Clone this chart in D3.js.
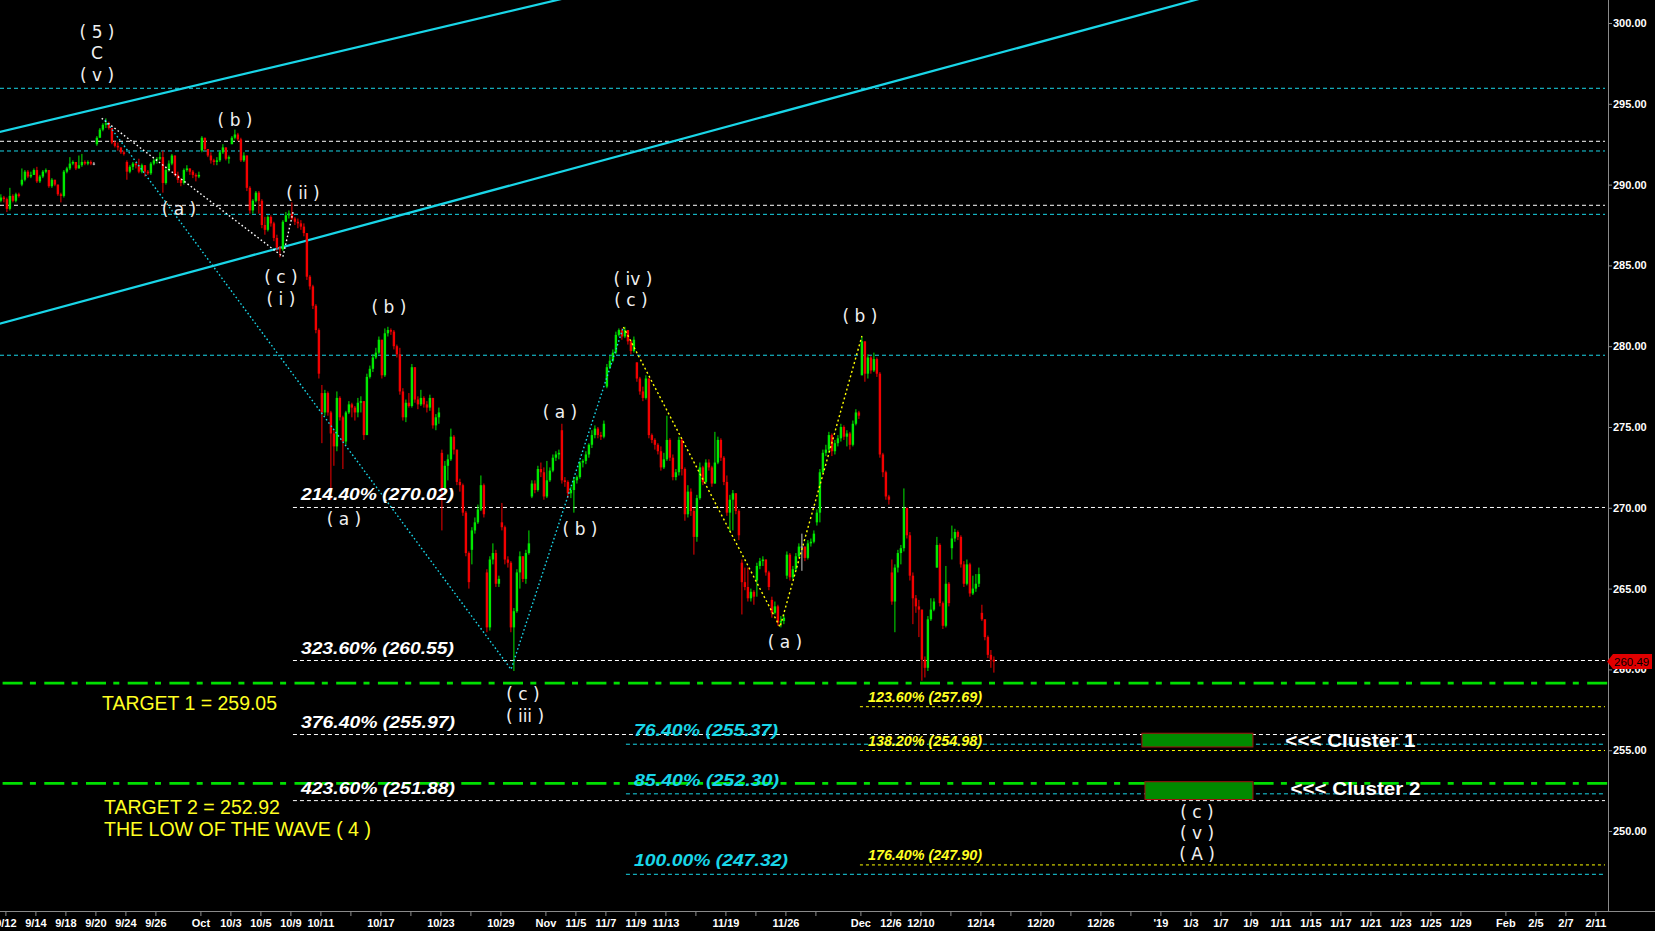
<!DOCTYPE html>
<html><head><meta charset="utf-8">
<script src="https://cdn.jsdelivr.net/npm/d3@7"></script>
<style>html,body{margin:0;padding:0;background:#000;overflow:hidden}</style>
</head><body>
<svg id="c" width="1655" height="931"></svg>
<script>
// ---------------- DATA ----------------
// trading days shown (index -1 = 9/11, 0 = 9/12 ...)
const firstDay = -1;
const dayDates = ["9/11","9/12","9/13","9/14","9/17","9/18","9/19","9/20","9/21","9/24","9/25","9/26","9/27","9/28",
 "10/1","10/2","10/3","10/4","10/5","10/8","10/9","10/10","10/11","10/12","10/15","10/16","10/17","10/18","10/19",
 "10/22","10/23","10/24","10/25","10/26","10/29","10/30","10/31","11/1","11/2","11/5","11/6","11/7","11/8","11/9",
 "11/12","11/13","11/14","11/15","11/16","11/19","11/20","11/21","11/23","11/26","11/27","11/28","11/29","11/30",
 "12/3","12/4","12/6","12/7","12/10","12/11","12/12","12/13","12/14"];
// opening price of each day when it gaps (null = previous close)
const dayOpen = [288.9,null,290.0,null,null,null,null,292.5,null,291.4,null,null,null,null,
 292.1,null,292.5,null,null,null,null,null,277.1,null,null,null,null,null,null,
 null,273.4,null,267.4,266.0,269.1,null,270.7,null,274.8,null,null,277.5,null,279.0,
 null,null,null,null,null,null,266.6,265.5,264.3,265.8,null,269.1,null,null,
 278.2,null,266.0,null,null,266.3,267.5,null,263.5];
// five intraday bars per day
const closes = [
 289.1,288.8,289.0,289.2,289.1, 288.5,289.3,289.0,289.4,289.3, 290.3,290.8,290.5,290.6,290.9,
 290.2,290.5,290.8,290.9,289.9, 290.3,290.0,289.4,289.3,290.8, 291.0,291.3,291.4,291.0,291.2,
 291.4,291.3,291.4,291.3,291.3, 292.9,293.4,293.7,293.8,293.5, 292.6,292.4,292.3,292.0,291.9,
 290.8,291.1,291.3,291.2,290.8, 291.2,290.8,290.7,291.3,291.5, 291.6,291.7,290.1,290.9,291.3,
 291.8,290.6,290.3,290.1,290.9, 291.0,290.8,290.6,290.5,290.6,
 292.9,292.2,291.8,291.5,291.4, 291.5,292.0,292.3,291.6,291.7, 292.9,293.1,292.8,291.5,291.8,
 289.8,288.4,289.0,289.5,289.0, 287.5,287.2,288.0,287.6,286.7, 286.1,286.0,287.7,288.1,288.2,
 287.9,287.7,287.6,287.4,287.0, 284.3,283.7,282.5,281.0,278.3, 275.9,277.1,275.9,274.6,273.8,
 276.8,275.6,274.1,275.9,276.4, 276.2,275.9,276.5,276.6,274.5, 278.1,278.6,279.3,279.6,280.4,
 278.2,280.8,281.0,280.9,280.0, 279.5,277.2,275.6,276.5,276.3, 278.7,276.7,276.4,276.8,276.4,
 276.2,276.8,275.1,275.6,275.9, 271.2,272.6,273.0,274.4,273.6, 271.6,271.4,269.7,267.2,265.4,
 268.6,269.1,269.9,271.4,269.6, 262.6,266.8,267.2,265.3,265.6, 268.8,266.8,266.6,262.6,263.6,
 266.0,267.0,265.6,267.2,267.8, 271.5,271.1,272.4,272.2,270.7, 271.7,272.3,273.1,273.3,273.4,
 271.7,271.6,270.9,271.1,271.7, 271.9,272.8,272.9,273.3,273.9, 274.5,274.9,274.5,274.4,275.2,
 278.7,279.1,279.6,280.7,281.0, 280.6,281.0,280.3,279.7,280.4, 278.0,277.2,276.8,278.0,274.5,
 274.2,273.9,273.5,272.5,273.0, 274.2,273.1,271.9,272.2,274.2, 272.4,269.6,271.0,269.8,268.2,
 270.6,272.5,271.6,272.8,272.5, 271.5,272.8,274.2,273.1,271.6, 269.7,270.5,270.9,269.8,268.3,
 265.4,265.1,264.4,264.8,264.5, 266.4,266.7,266.8,266.0,265.1, 263.5,263.9,262.9,263.0,263.2,
 267.1,265.7,266.2,267.0,267.6, 267.6,266.9,267.8,267.9,268.4, 269.7,272.2,273.4,273.6,274.5,
 273.5,274.0,274.3,275.0,274.4, 274.6,273.9,275.2,275.9,275.7,
 280.3,278.3,279.3,278.5,279.2, 278.3,273.3,272.2,270.7,270.5, 264.2,266.3,267.2,267.5,270.0,
 268.3,265.8,264.4,263.9,263.7, 260.6,260.1,263.1,263.7,264.2, 267.7,264.1,262.7,265.3,264.1,
 268.1,268.5,268.2,266.5,265.3, 266.5,264.7,265.0,265.3,265.9, 263.1,262.0,260.9,260.6,260.49];
const highs = [
 289.3,289.2,289.2,289.4,289.3, 289.2,289.8,289.4,289.5,289.5, 291.0,290.9,290.9,290.8,291.0,
 291.1,290.6,290.9,291.0,290.9, 290.4,290.3,290.0,289.5,290.9, 291.1,291.7,291.5,291.4,291.8,
 291.9,291.5,291.5,291.5,291.4, 293.0,293.5,293.8,294.1,293.9, 293.5,292.7,292.6,292.3,292.1,
 291.5,291.2,291.4,291.4,291.6, 291.3,291.2,290.9,291.4,291.6, 291.7,292.0,292.1,291.0,291.5,
 291.9,291.8,290.8,290.4,291.0, 291.2,291.0,290.9,290.7,290.8,
 293.0,292.9,292.2,292.0,291.6, 291.7,292.1,292.5,292.3,291.8, 293.0,293.4,293.2,292.9,292.0,
 291.3,289.9,289.1,289.6,289.6, 289.1,288.0,288.1,288.1,287.7, 286.9,286.2,287.8,288.3,288.4,
 288.9,288.0,287.9,287.8,287.6, 287.0,284.4,283.8,282.6,281.1, 277.6,277.3,277.2,276.0,274.8,
 277.2,276.9,275.7,276.0,276.6, 276.5,276.3,276.8,276.9,276.6, 278.3,278.8,279.5,279.9,280.6,
 280.2,281.1,281.2,281.1,281.0, 280.1,279.9,277.4,276.7,277.1, 278.9,278.7,276.9,277.3,276.9,
 276.6,277.0,276.8,275.8,276.2, 273.6,272.9,273.3,274.9,274.5, 273.6,271.8,271.5,269.8,267.3,
 268.8,269.4,270.2,272.0,271.5, 266.2,267.0,267.8,267.4,265.8, 270.3,268.9,267.0,266.7,263.8,
 266.2,267.3,267.0,267.4,268.6, 271.7,271.7,272.6,272.8,272.5, 272.9,272.5,273.3,273.5,273.6,
 275.2,271.9,271.7,271.3,271.9, 272.0,272.9,273.0,273.5,274.0, 274.8,275.1,275.0,274.7,275.4,
 278.9,279.4,279.8,280.9,281.1, 281.1,281.2,281.0,280.4,280.6, 279.0,278.1,277.5,278.2,277.9,
 274.6,274.3,274.0,273.8,273.4, 275.7,274.3,273.3,272.4,274.4, 274.3,272.5,271.4,271.2,270.0,
 270.8,272.8,272.6,273.0,273.0, 272.6,274.7,274.4,274.3,273.2, 272.0,270.8,271.1,270.9,269.9,
 266.8,266.3,266.3,265.0,264.9, 266.6,266.9,267.0,266.8,266.1, 264.5,264.2,264.0,263.3,263.4,
 267.3,267.2,266.4,267.2,267.8, 268.4,267.5,268.0,268.1,268.6, 269.9,272.4,273.6,273.9,274.7,
 274.6,274.2,274.5,275.2,275.1, 274.8,274.7,275.4,276.1,276.0,
 280.6,280.3,279.5,279.4,279.6, 279.3,278.4,273.4,272.3,270.8, 266.8,266.5,267.4,267.7,271.2,
 270.0,268.5,266.0,264.6,264.3, 263.5,260.8,263.3,264.4,264.4, 268.2,267.8,264.2,266.4,265.4,
 268.9,268.7,268.6,268.3,266.7, 266.8,266.6,265.8,265.9,266.3, 264.0,263.1,262.1,261.2,260.8];
const lows = [
 288.7,288.6,288.7,288.9,288.9, 288.3,288.4,288.9,288.9,289.2, 289.9,290.2,290.4,290.4,290.6,
 290.1,290.1,290.4,290.7,289.8, 289.8,289.9,289.3,288.9,289.2, 290.7,290.9,291.2,290.9,291.0,
 291.1,291.2,291.2,291.2,291.2, 292.4,292.9,293.3,293.5,293.4, 292.5,292.3,292.1,291.9,291.8,
 290.3,290.7,290.9,291.0,290.7, 290.7,290.5,290.6,290.6,291.2, 291.3,291.5,289.5,290.0,290.8,
 291.2,290.5,290.1,289.9,290.0, 290.8,290.6,290.4,290.2,290.4,
 292.0,292.1,291.7,291.3,291.2, 291.2,291.4,291.9,291.5,291.3, 292.5,292.8,292.7,291.4,291.4,
 289.6,288.2,288.2,288.9,288.2, 287.3,286.9,287.1,287.4,286.5, 285.9,285.5,285.9,287.7,287.9,
 287.8,287.5,287.3,287.2,286.8, 284.1,283.5,282.3,280.8,278.0, 274.0,275.7,275.7,270.5,272.6,
 273.5,275.4,272.4,273.9,275.8, 275.6,275.4,275.6,275.9,274.2, 274.5,278.0,278.4,279.2,279.5,
 278.0,278.1,280.6,280.7,279.8, 279.3,277.0,275.4,275.3,276.2, 276.2,276.5,276.1,276.3,276.2,
 275.9,276.0,274.9,274.8,275.2, 268.6,270.8,271.7,272.9,273.3, 271.4,271.0,269.5,267.0,265.0,
 266.5,268.4,269.0,269.8,269.4, 262.3,262.4,266.5,265.1,265.1, 268.6,266.5,266.3,262.3,259.9,
 263.5,265.0,265.4,265.3,267.1, 270.6,270.9,271.0,271.9,270.5, 270.6,271.6,272.2,272.9,273.0,
 271.5,271.3,270.6,270.6,269.7, 271.5,271.8,272.5,272.7,273.1, 273.7,274.3,274.3,274.2,274.3,
 277.4,278.6,279.0,279.5,280.6, 280.4,280.5,280.1,279.5,279.6, 277.8,277.0,276.6,276.7,274.3,
 274.0,273.6,273.3,272.3,272.4, 272.9,272.9,271.7,271.7,272.0, 272.0,269.2,269.4,269.5,267.1,
 267.9,270.5,271.4,271.5,272.3, 271.3,271.5,272.7,272.9,271.4, 269.5,268.5,268.6,269.6,268.0,
 263.4,264.9,264.2,264.2,264.0, 264.5,266.2,266.4,265.8,264.9, 263.2,263.4,262.7,262.6,262.8,
 265.6,265.5,265.6,266.1,266.9, 266.1,266.7,266.8,267.6,267.8, 268.9,269.1,272.1,273.2,273.4,
 273.2,273.3,273.8,274.1,274.2, 273.8,273.6,273.8,275.1,275.5,
 278.2,277.8,278.0,278.3,278.4, 278.1,273.1,271.9,270.5,270.2, 264.0,262.3,266.0,266.5,267.3,
 268.1,265.5,262.8,263.5,262.0, 259.3,259.5,259.9,263.0,263.6, 266.3,263.9,262.5,262.6,263.9,
 266.8,267.9,268.0,266.3,265.1, 265.2,264.5,264.6,264.8,265.1, 263.0,261.8,260.7,260.1,259.8];

// x axis ticks (trading-day index, label)
const tickIdx = [0,2,4,6,8,10,13,15,17,19,21,23,25,27,29,31,33,36,38,40,42,44,46,48,50,52,54,
 57,59,61,63,65,67,69,71,73,75,77,79,81,83,85,87,89,91,93,95,97,100,102,104,106];
const tickLabels = ["9/12","9/14","9/18","9/20","9/24","9/26","Oct","10/3","10/5","10/9","10/11","","10/17","","10/23","","10/29",
 "Nov","11/5","11/7","11/9","11/13","","11/19","","11/26","","Dec","12/6","12/10","","12/14","","12/20","","12/26","",
 "'19","1/3","1/7","1/9","1/11","1/15","1/17","1/21","1/23","1/25","1/29","Feb","2/5","2/7","2/11"];
const yTicks = [250,255,260,265,270,275,280,285,290,295,300];

// horizontal reference levels across the whole chart
const fullLevels = [295.96, 292.68, 292.08, 288.72, 288.16, 279.44];
const fullLevelColor = ["c","w","c","w","c","c"];
// fibonacci projections
const whiteFibPrice = [270.02, 260.55, 255.97, 251.88];
const whiteFibLabel = ["214.40% (270.02)","323.60% (260.55)","376.40% (255.97)","423.60% (251.88)"];
const cyanFibPrice = [255.37, 252.30, 247.32];
const cyanFibLabel = ["76.40% (255.37)","85.40% (252.30)","100.00% (247.32)"];
const yellowFibPrice = [257.69, 254.98, 247.90];
const yellowFibLabel = ["123.60% (257.69)","138.20% (254.98)","176.40% (247.90)"];
const fibStart = {w: 19.17, c: 41.37, y: 56.97};
const targetLevels = [259.15, 252.95];
// channel lines [dayIndex, price]
const channelUpper = [[-0.36, 293.27], [36.77, 301.42]];
const channelLower = [[-0.36, 281.40], [79.30, 301.42]];
// wave paths [dayIndex, price]
const waveWhite = [[6.42, 294.1], [18.5, 285.54], [19.2, 288.4]];
const waveCyan = [[6.64, 294.0], [33.71, 260.0], [41.2, 281.19]];
const waveYellow = [[41.2, 281.19], [51.64, 262.62], [57.1, 280.63]];
// cluster zones
const clusters = [{t0: 75.77, t1: 83.17, hi: 256.05, lo: 255.2, label: "<<< Cluster 1", lt: 85.33, lp: 255.6},
                  {t0: 75.97, t1: 83.17, hi: 253.05, lo: 251.95, label: "<<< Cluster 2", lt: 85.67, lp: 252.65}];
// wave labels [text, dayIndex, price]
const waveLabels = [["( 5 )",6.11,299.44],["C",6.11,298.14],["( v )",6.11,296.78],
 ["( b )",15.31,294.0],["( a )",11.57,288.49],["( ii )",19.84,289.48],["( c )",18.37,284.28],["( i )",18.37,282.92],
 ["( b )",25.57,282.43],["( a )",22.57,269.31],["( a )",36.97,275.93],["( b )",38.31,268.69],
 ["( iv )",41.84,284.16],["( c )",41.71,282.86],["( b )",56.97,281.87],["( a )",51.97,261.70],
 ["( c )",34.51,258.48],["( iii )",34.64,257.12],["( c )",79.44,251.18],["( v )",79.44,249.88],["( A )",79.44,248.58]];
const targetNotes = [["TARGET 1 = 259.05",6.44,257.92,175],["TARGET 2 = 252.92",6.57,251.49,176],["THE LOW OF THE WAVE ( 4 )",6.57,250.12,267]];
const lastPrice = 260.49;

// ---------------- DRAW ----------------
const W = 1655, H = 931, plotRight = 1608, plotBottom = 911;
const x = d3.scaleLinear().domain([0, 100]).range([5.4, 1505.4]);
const y = d3.scaleLinear().domain([250, 300]).range([831, 23]);
const COL = {c: "#19d6e8", w: "#ffffff", y: "#ffff00", g: "#00e000"};
const svg = d3.select("#c");
svg.append("rect").attr("width", W).attr("height", H).attr("fill", "#000");
svg.append("defs").append("clipPath").attr("id", "plot")
  .append("rect").attr("x", 0).attr("y", 0).attr("width", plotRight).attr("height", plotBottom);
const g = svg.append("g").attr("clip-path", "url(#plot)");
const tLeft = x.invert(0), tRight = x.invert(1605);

function hline(price, t0, color, dash, width) {
  g.append("line").attr("x1", x(t0)).attr("x2", x(tRight)).attr("y1", y(price)).attr("y2", y(price))
    .attr("stroke", color).attr("stroke-width", width || 1).attr("stroke-dasharray", dash);
}
fullLevels.forEach((p, i) => hline(p, tLeft, COL[fullLevelColor[i]], "4,3"));
whiteFibPrice.forEach(p => hline(p, fibStart.w, COL.w, "4,3"));
cyanFibPrice.forEach(p => hline(p, fibStart.c, COL.c, "4,3"));
yellowFibPrice.forEach(p => hline(p, fibStart.y, COL.y, "3,3"));
targetLevels.forEach(p => {
  g.append("line").attr("x1", x(tLeft)).attr("x2", plotRight).attr("y1", y(p)).attr("y2", y(p))
    .attr("stroke", COL.g).attr("stroke-width", 2.6).attr("stroke-dasharray", "20,7.3,6,8.4")
    .attr("stroke-dashoffset", 39.1);
});

// channel lines (extended)
function extLine(pts) {
  const [[t0, p0], [t1, p1]] = pts;
  const s = (p1 - p0) / (t1 - t0);
  const a = -5, b = 110;
  return [[a, p0 + s * (a - t0)], [b, p0 + s * (b - t0)]];
}
const lineGen = d3.line().x(d => x(d[0])).y(d => y(d[1]));
[channelUpper, channelLower].forEach(c => {
  g.append("path").attr("d", lineGen(extLine(c))).attr("stroke", COL.c).attr("stroke-width", 2.2).attr("fill", "none");
});

// cluster boxes
clusters.forEach(c => {
  g.append("rect").attr("x", x(c.t0)).attr("width", x(c.t1) - x(c.t0)).attr("y", y(c.hi)).attr("height", y(c.lo) - y(c.hi))
    .attr("fill", "#008a00").attr("stroke", "#a01010").attr("stroke-width", 1);
});

// candles
const bars = [];
let prev = null;
for (let i = 0; i < closes.length; i++) {
  const d = Math.floor(i / 5), j = i % 5;
  const o = (j === 0 && dayOpen[d] != null) ? dayOpen[d] : (prev == null ? closes[i] : prev);
  const c = closes[i];
  bars.push({t: firstDay + d + (j + 0.5) / 5, o, c, h: Math.max(highs[i], o, c), l: Math.min(lows[i], o, c)});
  prev = c;
}
const colorOf = b => Math.abs(b.c - b.o) < 0.05 ? "#c8c8c8" : (b.c > b.o ? "#00e800" : "#f20000");
const cg = g.append("g");
cg.selectAll("line.w").data(bars).join("line").attr("class", "w")
  .attr("x1", b => x(b.t)).attr("x2", b => x(b.t)).attr("y1", b => y(b.h)).attr("y2", b => y(b.l))
  .attr("stroke", colorOf).attr("stroke-width", 1);
cg.selectAll("rect").data(bars).join("rect")
  .attr("x", b => x(b.t) - 1.2).attr("width", 2.4)
  .attr("y", b => y(Math.max(b.o, b.c))).attr("height", b => Math.max(1, Math.abs(y(b.o) - y(b.c))))
  .attr("fill", colorOf);

// wave paths
[[waveWhite, COL.w, "1.6,2.4"], [waveCyan, COL.c, "1.6,2.4"], [waveYellow, COL.y, "2,2.6"]].forEach(([pts, col, dash]) => {
  g.append("path").attr("d", lineGen(pts)).attr("stroke", col).attr("stroke-width", 1.4)
    .attr("stroke-dasharray", dash).attr("fill", "none");
});

// texts
const F = "'Liberation Sans', Arial, sans-serif";
function fibText(labels, prices, t0, color, size, up, len) {
  labels.forEach((s, i) => {
    g.append("text").text(s).attr("x", x(t0) + 8).attr("y", y(prices[i]) - up)
      .attr("fill", color).style("font", `italic bold ${size}px ${F}`)
      .attr("textLength", len[i]).attr("lengthAdjust", "spacingAndGlyphs");
  });
}
fibText(whiteFibLabel, whiteFibPrice, fibStart.w, "#ffffff", 17, 7, [153, 153, 154, 154]);
fibText(cyanFibLabel, cyanFibPrice, fibStart.c, "#19d6e8", 17, 8, [144, 145, 154]);
fibText(yellowFibLabel, yellowFibPrice, fibStart.y, "#ffff22", 14, 5, [114, 114, 114]);

targetNotes.forEach(([s, t, p, len]) => {
  g.append("text").text(s).attr("x", x(t)).attr("y", y(p)).attr("dy", "0.36em")
    .attr("fill", "#ffff22").style("font", `19.5px ${F}`)
    .attr("textLength", len).attr("lengthAdjust", "spacingAndGlyphs");
});
clusters.forEach(c => {
  g.append("text").text(c.label).attr("x", x(c.lt)).attr("y", y(c.lp)).attr("dy", "0.36em")
    .attr("fill", "#ffffff").style("font", `bold 19px ${F}`)
    .attr("textLength", 130).attr("lengthAdjust", "spacingAndGlyphs");
});
waveLabels.forEach(([s, t, p]) => {
  g.append("text").text(s).attr("x", x(t)).attr("y", y(p)).attr("dy", "0.36em")
    .attr("text-anchor", "middle").attr("fill", "#f0f0f0")
    .style("font", "17px 'DejaVu Sans', Verdana, sans-serif");
});

// axes
const axisFont = `bold 11px ${F}`;
const ya = svg.append("g").attr("transform", `translate(${plotRight},0)`)
  .call(d3.axisRight(y).tickValues(yTicks).tickFormat(d3.format(".2f")).tickSize(4).tickPadding(1));
ya.select(".domain").remove();
ya.selectAll("line").attr("stroke", "#8a8a8a");
ya.selectAll("text").attr("fill", "#ffffff").style("font", axisFont);

const xa = svg.append("g").attr("transform", `translate(0,${plotBottom})`)
  .call(d3.axisBottom(x).tickValues(tickIdx).tickFormat((d, i) => tickLabels[i]).tickSize(5).tickPadding(3));
xa.select(".domain").remove();
xa.selectAll("line").attr("stroke", "#8a8a8a");
xa.selectAll("text").attr("fill", "#ffffff").style("font", axisFont);

svg.append("line").attr("x1", plotRight + 0.5).attr("x2", plotRight + 0.5).attr("y1", 0).attr("y2", plotBottom)
  .attr("stroke", "#8a8a8a");
svg.append("line").attr("x1", 0).attr("x2", W).attr("y1", plotBottom + 0.5).attr("y2", plotBottom + 0.5)
  .attr("stroke", "#8a8a8a");

// last price tag
const ty = y(lastPrice);
svg.append("path")
  .attr("d", `M${plotRight - 1},${ty} L${plotRight + 5},${ty - 7.5} L1652,${ty - 7.5} L1652,${ty + 7.5} L${plotRight + 5},${ty + 7.5} Z`)
  .attr("fill", "#e00000");
svg.append("text").text(d3.format(".2f")(lastPrice)).attr("x", plotRight + 6).attr("y", ty).attr("dy", "0.36em")
  .attr("fill", "#000").style("font", `11.5px ${F}`);
</script>
</body></html>
